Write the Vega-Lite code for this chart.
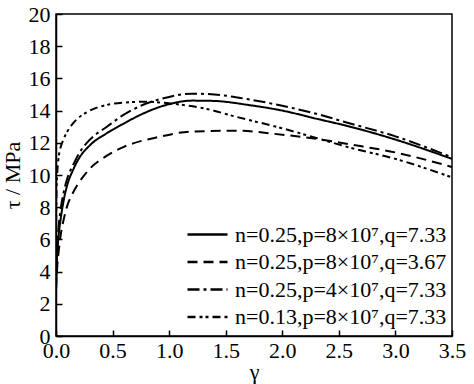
{
  "$schema": "https://vega.github.io/schema/vega-lite/v6.json",
  "autosize": {"type": "none"},
  "width": 396,
  "height": 322,
  "padding": {"left": 56, "top": 14, "right": 22, "bottom": 48},
  "background": "white",
  "config": {
    "font": "serif",
    "view": {"stroke": "black", "strokeWidth": 1.5},
    "axis": {
      "domainColor": "black", "domainWidth": 1.5,
      "tickColor": "black", "tickWidth": 1.5, "tickSize": -6,
      "labelFont": "serif", "labelFontSize": 22, "labelColor": "black",
      "titleFont": "serif", "titleFontSize": 22, "titleFontWeight": "normal", "titleColor": "black",
      "grid": false
    },
    "legend": {
      "labelFont": "serif", "labelFontSize": 22, "labelColor": "black", "labelLimit": 400
    }
  },
  "data": {
    "values": [
      {"s": "A", "g": 0.002, "t": 3.6}, {"s": "A", "g": 0.01, "t": 5.0}, {"s": "A", "g": 0.02, "t": 6.0}, {"s": "A", "g": 0.04, "t": 7.2}, {"s": "A", "g": 0.07, "t": 8.5}, {"s": "A", "g": 0.1, "t": 9.4}, {"s": "A", "g": 0.15, "t": 10.3}, {"s": "A", "g": 0.2, "t": 11.0}, {"s": "A", "g": 0.3, "t": 11.85}, {"s": "A", "g": 0.45, "t": 12.6}, {"s": "A", "g": 0.6, "t": 13.2}, {"s": "A", "g": 0.75, "t": 13.75}, {"s": "A", "g": 1.0, "t": 14.4}, {"s": "A", "g": 1.2, "t": 14.62}, {"s": "A", "g": 1.4, "t": 14.6}, {"s": "A", "g": 1.7, "t": 14.35}, {"s": "A", "g": 2.0, "t": 14.0}, {"s": "A", "g": 2.3, "t": 13.5}, {"s": "A", "g": 2.6, "t": 13.0}, {"s": "A", "g": 3.0, "t": 12.2}, {"s": "A", "g": 3.5, "t": 11.0},
      {"s": "B", "g": 0.002, "t": 3.0}, {"s": "B", "g": 0.01, "t": 4.2}, {"s": "B", "g": 0.02, "t": 5.0}, {"s": "B", "g": 0.04, "t": 6.2}, {"s": "B", "g": 0.07, "t": 7.3}, {"s": "B", "g": 0.1, "t": 8.1}, {"s": "B", "g": 0.15, "t": 8.9}, {"s": "B", "g": 0.2, "t": 9.5}, {"s": "B", "g": 0.3, "t": 10.4}, {"s": "B", "g": 0.45, "t": 11.2}, {"s": "B", "g": 0.6, "t": 11.75}, {"s": "B", "g": 0.9, "t": 12.35}, {"s": "B", "g": 1.2, "t": 12.7}, {"s": "B", "g": 1.6, "t": 12.75}, {"s": "B", "g": 2.0, "t": 12.5}, {"s": "B", "g": 2.3, "t": 12.25}, {"s": "B", "g": 2.6, "t": 11.9}, {"s": "B", "g": 3.0, "t": 11.4}, {"s": "B", "g": 3.5, "t": 10.5},
      {"s": "C", "g": 0.002, "t": 3.6}, {"s": "C", "g": 0.01, "t": 5.2}, {"s": "C", "g": 0.02, "t": 6.5}, {"s": "C", "g": 0.04, "t": 7.8}, {"s": "C", "g": 0.07, "t": 9.0}, {"s": "C", "g": 0.1, "t": 9.8}, {"s": "C", "g": 0.15, "t": 10.6}, {"s": "C", "g": 0.2, "t": 11.3}, {"s": "C", "g": 0.3, "t": 12.2}, {"s": "C", "g": 0.45, "t": 13.0}, {"s": "C", "g": 0.6, "t": 13.75}, {"s": "C", "g": 0.75, "t": 14.3}, {"s": "C", "g": 1.0, "t": 14.85}, {"s": "C", "g": 1.2, "t": 15.05}, {"s": "C", "g": 1.4, "t": 15.0}, {"s": "C", "g": 1.7, "t": 14.7}, {"s": "C", "g": 2.0, "t": 14.3}, {"s": "C", "g": 2.3, "t": 13.8}, {"s": "C", "g": 2.6, "t": 13.2}, {"s": "C", "g": 3.0, "t": 12.4}, {"s": "C", "g": 3.5, "t": 11.1},
      {"s": "D", "g": 0.001, "t": 7.0}, {"s": "D", "g": 0.005, "t": 9.0}, {"s": "D", "g": 0.01, "t": 10.0}, {"s": "D", "g": 0.02, "t": 10.9}, {"s": "D", "g": 0.04, "t": 11.7}, {"s": "D", "g": 0.06, "t": 12.1}, {"s": "D", "g": 0.1, "t": 12.7}, {"s": "D", "g": 0.15, "t": 13.2}, {"s": "D", "g": 0.3, "t": 14.0}, {"s": "D", "g": 0.45, "t": 14.35}, {"s": "D", "g": 0.6, "t": 14.5}, {"s": "D", "g": 0.8, "t": 14.55}, {"s": "D", "g": 1.0, "t": 14.45}, {"s": "D", "g": 1.3, "t": 14.15}, {"s": "D", "g": 1.6, "t": 13.6}, {"s": "D", "g": 2.0, "t": 12.9}, {"s": "D", "g": 2.3, "t": 12.3}, {"s": "D", "g": 2.6, "t": 11.7}, {"s": "D", "g": 3.0, "t": 11.0}, {"s": "D", "g": 3.5, "t": 9.85}
    ]
  },
  "transform": [
    {"lookup": "s", "from": {"data": {"values": [
      {"s": "A", "label": "n=0.25,p=8×10⁷,q=7.33"},
      {"s": "B", "label": "n=0.25,p=8×10⁷,q=3.67"},
      {"s": "C", "label": "n=0.25,p=4×10⁷,q=7.33"},
      {"s": "D", "label": "n=0.13,p=8×10⁷,q=7.33"}
    ]}, "key": "s", "fields": ["label"]}}
  ],
  "mark": {"type": "line", "interpolate": "monotone", "strokeWidth": 2, "color": "black", "clip": true},
  "encoding": {
    "x": {"field": "g", "type": "quantitative", "title": "γ",
      "scale": {"domain": [0, 3.5], "nice": false},
      "axis": {"values": [0, 0.5, 1, 1.5, 2, 2.5, 3, 3.5], "format": ".1f", "labelPadding": 10, "titlePadding": 0, "labelFlush": false}},
    "y": {"field": "t", "type": "quantitative", "title": "τ / MPa",
      "scale": {"domain": [0, 20], "nice": false},
      "axis": {"values": [0, 2, 4, 6, 8, 10, 12, 14, 16, 18, 20], "labelPadding": 12, "titlePadding": 4, "labelFlush": false}},
    "detail": {"field": "s"},
    "strokeDash": {"field": "label", "type": "nominal",
      "scale": {"domain": ["n=0.25,p=8×10⁷,q=7.33", "n=0.25,p=8×10⁷,q=3.67", "n=0.25,p=4×10⁷,q=7.33", "n=0.13,p=8×10⁷,q=7.33"],
        "range": [[1, 0], [10, 6], [12, 4, 3, 4], [8, 4, 3, 3, 3, 4]]},
      "legend": {"title": null, "orient": "none", "legendX": 140, "legendY": 209,
        "symbolType": "M-2,0H2", "symbolSize": 400, "symbolStrokeWidth": 2.5, "symbolStrokeColor": "black", "symbolFillColor": "transparent",
        "rowPadding": 4.5, "labelOffset": 16, "padding": 0}}
  }
}
